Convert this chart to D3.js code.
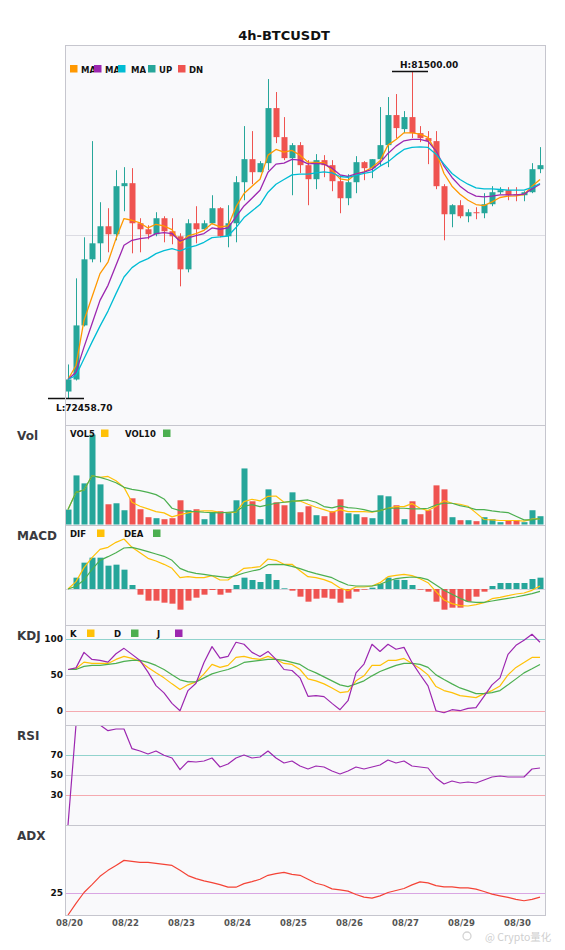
<!DOCTYPE html>
<html><head><meta charset="utf-8">
<script src="https://cdn.jsdelivr.net/npm/d3@7"></script>
<style>
html,body{margin:0;padding:0;background:#fff;}
svg{display:block;font-family:"DejaVu Sans",sans-serif;}
</style></head><body>
<svg id="c" width="565" height="950"></svg>
<script>
// ---------------- data ----------------
const title = "4h-BTCUSDT";
const opens = [72652,72985,74480,76307,76750,77221,77000,78329,78412,77304,
  77138,77000,77443,77083,76944,76030,77304,77138,77304,77720,
  76944,77304,78439,79076,78716,78966,80488,79685,79104,79464,
  78910,78522,79049,78910,78467,77996,78439,78993,78827,79076,
  79464,80295,79907,80239,79796,79658,79575,78329,77553,77803,
  77498,77609,77581,77830,78162,78218,78107,78079,78162,78799];
const closes = [72985,74480,76307,76750,77221,77000,78329,78412,77304,77138,
  77000,77443,77083,76944,76030,77304,77138,77304,77720,76944,
  77304,78439,79076,78716,78966,80488,79685,79104,79464,78910,
  78522,79049,78910,78467,77996,78439,78993,78827,79076,79464,
  80295,79935,80239,79796,79658,79575,78329,77553,77803,77498,
  77609,77581,77830,78162,78218,78079,78079,78162,78799,78910];
const highs = [73400,75781,76916,79575,77886,77720,78772,78855,78827,77443,
  77249,77609,77498,77443,77027,77415,77775,77387,78079,77747,
  77803,78606,79990,79852,79021,81291,80932,80239,79519,79547,
  79049,79215,79187,79049,78633,78661,79159,79021,79076,80516,
  80793,80876,80405,81500,79990,79852,79852,78384,77830,77941,
  77692,77747,78135,78329,78301,78301,78301,78190,78966,79409];
const lows = [72458.7,72957,74452,76224,76224,76501,76833,77636,76473,76501,
  76861,76944,76778,76723,75560,75947,76750,77110,77276,76916,
  76640,76778,77941,78384,78716,78772,79519,79049,78079,78689,
  77803,78246,78578,78190,77581,77803,78135,78495,78550,78882,
  78855,79658,79796,79658,79547,78938,78246,76833,77193,77443,
  77332,77415,77443,77775,78107,77941,77913,77913,78135,78689];
const volumes = [4500,14800,12400,27100,12100,6100,6400,4300,7900,4600,
  2200,1900,1600,1900,7300,4300,4600,1600,3700,4000,
  3700,7300,16900,7000,1600,10600,6700,5800,9700,3700,
  5500,2800,2500,4000,7600,3400,3100,2200,1900,8800,
  8500,5800,1600,7000,3100,4300,11800,10600,2200,1300,
  1300,1000,2200,1600,700,1300,1300,700,4300,2500];
const ma5 = [72985,73372,74618,75263,75911,76232,76880,77434,77387,77312,
  77174,77276,77229,77130,76759,76952,77019,77110,77296,77202,
  77229,77756,78126,78329,78522,79187,79345,79270,79317,79187,
  78993,78985,78974,78772,78531,78495,78669,78725,78846,79029,
  79464,79622,79804,79804,79768,79677,79278,78680,78329,78107,
  77941,77822,77794,77894,78016,78052,78060,78099,78329,78514];
const ma8 = [72985,73187,73879,74527,75172,75587,76141,76695,76833,76880,
  76908,77019,77047,77019,76806,76897,76963,77019,77174,77138,
  77174,77479,77783,77996,78218,78716,78938,78966,79068,79049,
  78946,78957,78938,78827,78642,78597,78669,78716,78791,78974,
  79234,79436,79583,79622,79622,79566,79306,78882,78570,78329,
  78162,78052,78032,78052,78088,78088,78088,78107,78254,78384];
const ma13 = [72985,73095,73558,74017,74460,74876,75358,75817,76077,76232,
  76327,76465,76548,76604,76537,76631,76687,76778,76908,76925,
  76952,77185,77462,77645,77822,78162,78384,78514,78642,78661,
  78661,78697,78725,78697,78597,78570,78625,78680,78725,78882,
  79001,79187,79345,79400,79417,79400,79215,78938,78680,78514,
  78384,78282,78254,78254,78237,78218,78218,78218,78293,78403];
const vol5 = [4500,9700,10400,14700,14200,14500,13200,11200,6700,5500,
  4700,3900,3500,2300,3000,3500,4000,4100,4100,3700,
  3600,3700,6900,7600,7100,8500,8600,6700,7000,7100,
  6100,5200,4500,3700,4500,3900,3900,3900,3700,4200,
  4900,5400,5400,6300,4900,4200,5500,7200,6400,6100,
  5500,3500,1500,1400,1200,1200,1200,1000,1600,1800];
const vol10 = [4500,9700,10400,14700,14200,13500,12600,11200,10600,10200,
  9700,9000,7700,4900,4200,4000,3900,3700,3600,3500,
  3700,3900,5500,6000,5400,5900,6400,6700,7000,7200,
  7400,6700,5400,5000,5600,5100,4900,4500,3900,4200,
  4900,4900,4900,4700,4700,4900,5900,6400,6400,5700,
  5200,4500,4500,4100,3800,3600,2500,1400,1400,1800];
const dif = [0,110,320,470,595,625,700,750,625,545,
  460,420,370,310,170,185,170,170,200,135,
  135,225,310,320,335,450,430,370,370,275,
  185,170,140,95,15,-25,30,30,45,95,
  185,205,220,200,155,95,-40,-165,-220,-250,
  -255,-235,-205,-145,-125,-100,-75,-60,-20,45];
const dea = [0,40,135,295,430,485,545,615,625,595,
  560,525,490,430,310,260,235,220,200,185,
  170,200,240,270,295,365,370,365,340,305,
  265,230,200,170,110,60,45,45,45,70,
  120,155,170,180,170,140,60,-20,-80,-140,
  -190,-200,-200,-180,-160,-140,-120,-95,-70,-35];
const macdHist = [0,170,395,470,470,350,365,290,60,-85,
  -175,-175,-205,-220,-310,-175,-130,-85,-15,-85,
  -55,60,170,135,105,225,135,10,-25,-115,
  -190,-145,-130,-145,-205,-145,-40,-10,20,75,
  170,140,135,60,-10,-40,-190,-310,-280,-280,
  -190,-115,-40,45,90,90,90,90,150,170];
const kLine = [57.7,58.7,68,66.2,66.2,66.2,71.8,76,73.2,69,
  60.6,53,46,37.6,29.6,36.2,40.4,51.6,64.8,60.6,
  63.4,74.6,76,73.2,71.8,76,71.8,66.2,64.8,57.7,
  44.6,41.8,37.6,31.9,25.4,26.8,41.8,48.8,63.4,63.4,
  70.4,70.4,73.2,66.2,59.2,50.2,33.8,28.2,25.4,21.1,
  19.7,18.3,23.9,28.2,34.7,50.2,60.6,67.6,74.6,74.6];
const dLine = [57.7,57.7,62,63.4,63.4,64.8,66.2,69,70.4,70.4,
  67.6,63.4,57.7,50.2,43.2,40.4,40.4,46,51.6,54.9,
  57.7,62,67.6,69,70.4,71.8,71.8,70.4,67.6,64.8,
  57.7,53,47.4,41.8,36.2,33.8,37.6,41.8,48.8,54.9,
  59.2,63.4,66.2,66.2,64.8,60.6,50.2,43.7,37.6,31.9,
  28.2,23.9,23.9,25.4,28.2,36.2,44.6,53,58.7,64.8];
const jLine = [57.7,60,81.7,71.8,70.4,68,79.8,87.3,78.9,70.4,
  54,35.2,24.9,10.3,0,28.2,38.5,67.6,89.7,73.7,
  76,95.8,93,81.7,76,83,71.8,57.7,56.3,46,
  20.2,21,19.7,10.3,1.4,14,53,65.3,93,83,
  93,86,88.7,67.6,50.7,34.7,0,-2.8,1.4,0,
  3.3,4.2,20.2,36.2,46,78.9,91.5,98.6,107,95.8];
const rsi = [0,100,100,100,100,94.3,96,96,76.3,74,
  71,74,69.7,67,55.3,63.7,63,64,67,58,
  61,67,70,67,68,74,67,62,64,59,
  56,59,58,54,51,54,58,56,58,60,
  65,62,64,59,58,57,47,41,44,42,
  43,42,45,48,49,48,48,48,56,57];
const adx = [0,12.9,25,33.8,43,49.6,55.1,60.7,59.6,58.5,
  58.5,57.4,56.3,55.1,49.6,43.8,40.4,37.9,36,33.8,
  30.9,30.9,34.9,37.1,39.7,44.1,46,47.4,45.2,44.1,
  39.7,35.3,33.1,29,27.9,26.5,22.8,19.9,18.8,21.3,
  25,27.2,29.4,33.5,36.8,35.7,32.7,31.3,31.3,30.1,
  30.1,28.7,26.1,23.2,21.3,19.5,17.3,15.8,17.3,19.9];
const tickIndex = [0,7,14,21,28,35,42,49,56];
const tickLabels = ["08/20","08/22","08/23","08/24","08/25","08/26","08/27","08/29","08/30"];
const mainLegend = ["MA5","MA8","MA13","UP","DN"];
const panelNames = ["Vol","MACD","KDJ","RSI","ADX"];
const watermark = "@ Crypto量化";

// ---------------- styles / layout ----------------
const UP="#26a69a", DN="#ef5350";
const C_MA=["#ff9800","#9c27b0","#00bcd4"];
const C_Y="#ffc107", C_G="#4caf50", C_P="#9c27b0", C_ADX="#f44336";
const FRAME="#c6c6ce", BG="#f9f9fb";
const N = closes.length;
const svg = d3.select("#c");
const x = d3.scaleBand().domain(d3.range(N)).range([64,544]);
const cx = i => x(i) + x.bandwidth()/2;
const L = 65.5, R = 545.5;
const P = {main:[45,425], vol:[425,525], macd:[525,625], kdj:[625,725], rsi:[725,825], adx:[825,915]};

// title
svg.append("text").attr("x",284).attr("y",39.5).attr("text-anchor","middle")
  .attr("font-size",13).attr("font-weight","bold").attr("fill","#111").text(title);

// panel backgrounds
Object.entries(P).forEach(([k,[t,b]])=>{
  svg.append("rect").attr("x",L).attr("y",t+0.5).attr("width",R-L).attr("height",b-t)
    .attr("fill",BG);
});
const defs = svg.append("defs");
Object.entries(P).forEach(([k,[t,b]])=>{
  defs.append("clipPath").attr("id","clip-"+k).append("rect")
    .attr("x",L).attr("y",t).attr("width",R-L).attr("height",b-t);
});

function hline(g, y, color){
  g.append("line").attr("x1",L).attr("x2",R).attr("y1",Math.round(y)+0.5).attr("y2",Math.round(y)+0.5)
    .attr("stroke",color).attr("stroke-width",1);
}
function lineOf(g, data, yScale, color, w){
  g.append("path").datum(data)
    .attr("d", d3.line().x((d,i)=>cx(i)).y(d=>yScale(d)))
    .attr("fill","none").attr("stroke",color).attr("stroke-width",w||1.2)
    .attr("stroke-linejoin","round");
}
function axisLabel(y, txt){
  svg.append("text").attr("x",63).attr("y",y).attr("dy","0.35em").attr("text-anchor","end")
    .attr("font-size",9).attr("font-weight","bold").attr("fill","#111").text(txt);
}

// ---------------- main candle panel ----------------
const lo = d3.min(lows), hi = d3.max(highs), pad = (hi-lo)*0.081;
const yM = d3.scaleLinear().domain([lo-pad, hi+pad]).range([P.main[1], P.main[0]]);
const gM = svg.append("g").attr("clip-path","url(#clip-main)");
hline(gM, (P.main[0]+P.main[1])/2, "#dcdce3");
const cand = gM.selectAll("g.c").data(d3.range(N)).join("g");
cand.append("line")
  .attr("x1",i=>cx(i)+0.5).attr("x2",i=>cx(i)+0.5)
  .attr("y1",i=>yM(highs[i])).attr("y2",i=>yM(lows[i]))
  .attr("stroke",i=>closes[i]>=opens[i]?UP:DN).attr("stroke-width",1);
cand.append("rect")
  .attr("x",i=>cx(i)-2.5).attr("width",6)
  .attr("y",i=>yM(Math.max(opens[i],closes[i])))
  .attr("height",i=>Math.max(1, Math.abs(yM(opens[i])-yM(closes[i]))))
  .attr("fill",i=>closes[i]>=opens[i]?UP:DN);
[ma5,ma8,ma13].forEach((d,k)=>lineOf(gM,d,yM,C_MA[k],1.3));

// high / low markers
const iH = d3.maxIndex(highs), iL = d3.minIndex(lows);
const fmt = d3.format(".2f");
[[iH, highs[iH], "H:", -3.5],[iL, lows[iL], "L:", 12]].forEach(([i,v,p,dy])=>{
  const yy = yM(v);
  svg.append("line").attr("x1",cx(i)-20).attr("x2",cx(i)+16).attr("y1",yy).attr("y2",yy)
    .attr("stroke","#111").attr("stroke-width",1.3);
  svg.append("text").attr("x",cx(i)-12).attr("y",yy+dy).attr("font-size",9)
    .attr("font-weight","bold").attr("fill","#111").text(p+fmt(v));
});

// main legend
const legSq = [70,94,118,148,178], legTx=[81,105,131,159,189];
const legCol = [C_MA[0],C_MA[1],C_MA[2],UP,DN];
mainLegend.forEach((name,k)=>{
  const cid = "lg"+k;
  const right = k<2 ? legSq[k+1] : (k===2 ? 146 : 230);
  defs.append("clipPath").attr("id",cid).append("rect")
    .attr("x",legTx[k]-1).attr("y",55).attr("width",right-legTx[k]+1).attr("height",25);
  svg.append("text").attr("x",legTx[k]).attr("y",72.5).attr("font-size",8.5)
    .attr("font-weight","bold").attr("fill","#111").attr("clip-path","url(#"+cid+")").text(name);
});
mainLegend.forEach((name,k)=>{
  svg.append("rect").attr("x",legSq[k]).attr("y",65).attr("width",7.5).attr("height",7.5).attr("fill",legCol[k]);
});

// sub-panel legends
function subLegend(top, items){
  items.forEach(([tx,label,sq,col])=>{
    svg.append("text").attr("x",tx).attr("y",top+11.5).attr("font-size",8.5)
      .attr("font-weight","bold").attr("fill","#111").text(label);
    svg.append("rect").attr("x",sq).attr("y",top+4.5).attr("width",7.5).attr("height",7.5).attr("fill",col);
  });
}

// ---------------- volume ----------------
const yV = d3.scaleLinear().domain([0,30000]).range([P.vol[1]-0.5, P.vol[0]]);
const gV = svg.append("g").attr("clip-path","url(#clip-vol)");
gV.selectAll("rect").data(volumes).join("rect")
  .attr("x",(d,i)=>cx(i)-2.5).attr("width",6)
  .attr("y",d=>yV(d)).attr("height",d=>yV(0)-yV(d))
  .attr("fill",(d,i)=>closes[i]>=opens[i]?UP:DN);
lineOf(gV, vol5, yV, C_Y, 1.2);
lineOf(gV, vol10, yV, C_G, 1.2);
subLegend(P.vol[0], [[70,"VOL5",101,C_Y],[125,"VOL10",163,C_G]]);

// ---------------- MACD ----------------
const yC = d3.scaleLinear().domain([-540,960]).range([P.macd[1], P.macd[0]]);
const gC = svg.append("g").attr("clip-path","url(#clip-macd)");
hline(gC, yC(0), "#d4d4dc");
gC.selectAll("rect").data(macdHist).join("rect")
  .attr("x",(d,i)=>cx(i)-2.5).attr("width",6)
  .attr("y",d=>Math.min(yC(d),yC(0))).attr("height",d=>Math.abs(yC(d)-yC(0)))
  .attr("fill",d=>d>=0?UP:DN);
lineOf(gC, dif, yC, C_Y, 1.2);
lineOf(gC, dea, yC, C_G, 1.2);
subLegend(P.macd[0], [[70,"DIF",97,C_Y],[124,"DEA",153,C_G]]);

// ---------------- KDJ ----------------
const yK = d3.scaleLinear().domain([-20,120]).range([P.kdj[1], P.kdj[0]]);
const gK = svg.append("g").attr("clip-path","url(#clip-kdj)");
hline(gK, yK(100), "#92d3cd"); hline(gK, yK(50), "#cfcfd6"); hline(gK, yK(0), "#f5aab0");
lineOf(gK, kLine, yK, C_Y, 1.2);
lineOf(gK, dLine, yK, C_G, 1.2);
lineOf(gK, jLine, yK, C_P, 1.2);
[100,50,0].forEach(v=>axisLabel(yK(v), v));
subLegend(P.kdj[0], [[70,"K",87,C_Y],[114,"D",131,C_G],[157,"J",175,C_P]]);

// ---------------- RSI ----------------
const yR = d3.scaleLinear().domain([0,100]).range([P.rsi[1], P.rsi[0]]);
const gR = svg.append("g").attr("clip-path","url(#clip-rsi)");
hline(gR, yR(70), "#92d3cd"); hline(gR, yR(50), "#cfcfd6"); hline(gR, yR(30), "#f5aab0");
lineOf(gR, rsi, yR, C_P, 1.2);
[70,50,30].forEach(v=>axisLabel(yR(v), v));

// ---------------- ADX ----------------
const yA = d3.scaleLinear().domain([0,100]).range([P.adx[1], P.adx[0]]);
const gA = svg.append("g").attr("clip-path","url(#clip-adx)");
hline(gA, yA(25), "#d9a6e3");
lineOf(gA, adx, yA, C_ADX, 1.2);
axisLabel(yA(25), 25);

// panel frames
Object.entries(P).forEach(([k,[t,b]])=>{
  svg.append("rect").attr("x",L).attr("y",t+0.5).attr("width",R-L).attr("height",b-t)
    .attr("fill","none").attr("stroke",FRAME).attr("stroke-width",1);
});

// panel names
[["vol","Vol"],["macd","MACD"],["kdj","KDJ"],["rsi","RSI"],["adx","ADX"]].forEach(([k,n],j)=>{
  svg.append("text").attr("x",17).attr("y",P[k][0]+14.5).attr("font-size",12)
    .attr("font-weight","bold").attr("fill","#3a3a40").text(panelNames[j]);
});

// x axis (bottom)
const xa = svg.append("g");
tickIndex.forEach((i,k)=>{
  xa.append("text").attr("x",cx(i)+1.5).attr("y",926).attr("text-anchor","middle")
    .attr("font-size",8.5).attr("font-weight","bold").attr("fill","#555").text(tickLabels[k]);
});

// watermark (light, bottom right)
const wm = svg.append("g").attr("fill","#cfcfcf");
wm.append("circle").attr("cx",467).attr("cy",936).attr("r",4).attr("fill","none")
  .attr("stroke","#d4d4d4").attr("stroke-width",1.3);
wm.append("text").attr("x",485).attr("y",941).attr("font-size",10.5)
  .attr("font-family","'Noto Sans CJK SC','DejaVu Sans',sans-serif").text(watermark);
</script>
</body></html>
